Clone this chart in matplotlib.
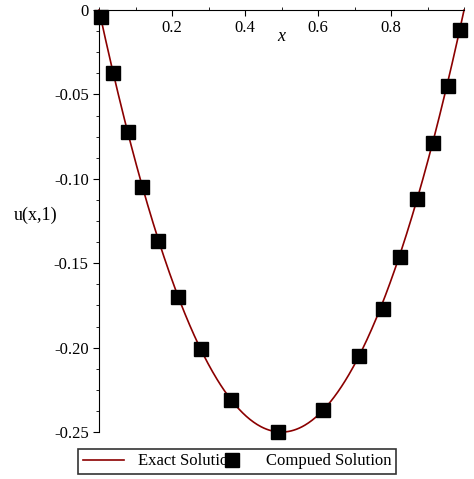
import numpy as np
import matplotlib
matplotlib.use("Agg")
import matplotlib.pyplot as plt
from matplotlib.ticker import MultipleLocator

plt.rcParams['font.family'] = ['Liberation Serif', 'DejaVu Serif']

pts_x = [0.004, 0.0385, 0.0785, 0.119, 0.162, 0.216, 0.279, 0.362, 0.49,
         0.614, 0.712, 0.777, 0.825, 0.872, 0.914, 0.955, 0.99]
pts_u = [-0.004, -0.037, -0.072, -0.105, -0.137, -0.170, -0.201, -0.231, -0.250,
         -0.237, -0.205, -0.177, -0.146, -0.112, -0.079, -0.045, -0.012]
xx = np.linspace(0, 1, 400)
exact = xx**2 - xx

fig = plt.figure(figsize=(4.74, 4.79), dpi=100)
ax = fig.add_axes([0.209, 0.098, 0.77, 0.881])
ax.plot(xx, exact, color='#8b0000', lw=1.2, label='Exact Solution', zorder=2, clip_on=False)
ax.plot(pts_x, pts_u, 's', color='black', ms=10, ls='none', label='Compued Solution',
        zorder=3, clip_on=False)
ax.set_xlim(0, 1)
ax.set_ylim(-0.25, 0)
ax.spines['right'].set_visible(False)
ax.spines['bottom'].set_visible(False)
ax.xaxis.set_ticks_position('top')
ax.xaxis.set_label_position('top')
ax.tick_params(axis='x', direction='in', pad=-19, labelsize=12, top=True, length=4)
ax.tick_params(axis='y', direction='out', labelsize=12, length=4)
ax.tick_params(which='minor', length=2)
ax.set_xticks([0.2, 0.4, 0.6, 0.8])
ax.set_xticklabels(['0.2', '0.4', '0.6', '0.8'])
ax.xaxis.set_minor_locator(MultipleLocator(0.1))
ax.set_yticks([0, -0.05, -0.10, -0.15, -0.20, -0.25])
ax.set_yticklabels(['0', '-0.05', '-0.10', '-0.15', '-0.20', '-0.25'])
ax.yaxis.set_minor_locator(MultipleLocator(0.0125))
ax.text(0.5, -0.0155, 'x', style='italic', fontsize=13, ha='center', va='center')
fig.text(0.03, 0.55, 'u(x,1)', fontsize=13, ha='left', va='center')
leg = fig.legend(loc='lower left', bbox_to_anchor=(0.148, -0.006, 0.705, 0.05), mode='expand',
                 ncol=2, fancybox=False, edgecolor='black', fontsize=12, handlelength=2.5,
                 borderpad=0.25, columnspacing=3)
leg.get_frame().set_linewidth(1.2)
fig.savefig('out.png', dpi=100)
